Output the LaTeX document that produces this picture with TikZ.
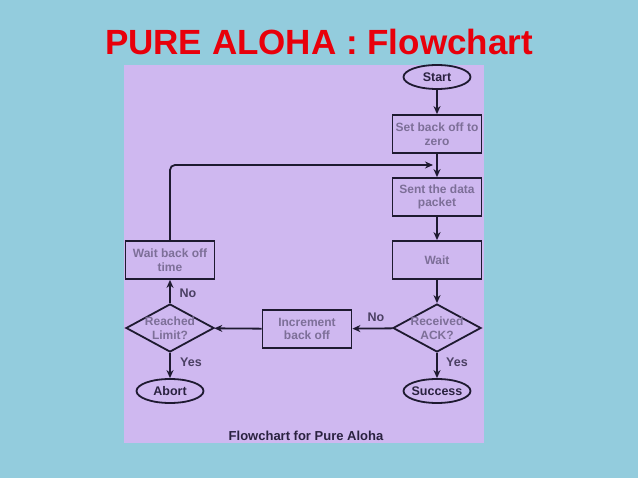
\documentclass[tikz,border=0pt]{standalone}
\usepackage{fontspec}
\setmainfont{Liberation Sans}
\usetikzlibrary{shapes.geometric,arrows.meta}
\definecolor{bgblue}{HTML}{93CCDD}
\definecolor{panel}{HTML}{CFB8F0}
\definecolor{linec}{HTML}{1E1A30}
\definecolor{boxtxt}{HTML}{7D6F98}
\definecolor{darktxt}{HTML}{2A2240}
\definecolor{titlered}{HTML}{E8000B}
\tikzset{
  conn/.style={draw=linec, line width=1.8pt, -{Stealth[length=8pt,width=7pt]}},
  procbox/.style={draw=linec, line width=1.8pt, rectangle, minimum width=89pt, minimum height=38pt, align=center, font=\bfseries\fontsize{12}{13.5}\selectfont, text=boxtxt, inner sep=1pt},
  term/.style={draw=linec, line width=1.8pt, ellipse, minimum width=67pt, minimum height=24pt, inner ysep=0pt, inner xsep=-3pt, font=\bfseries\fontsize{12.5}{14}\selectfont, text=darktxt},
  decis/.style={draw=linec, line width=1.8pt, diamond, aspect=1.8, minimum width=88pt, minimum height=48pt, inner sep=-7pt, align=center, font=\bfseries\fontsize{12}{13.5}\selectfont, text=boxtxt},
  lbl/.style={font=\bfseries\fontsize{12.5}{14}\selectfont, text=darktxt!80!panel, inner sep=1pt}
}
\begin{document}
\begin{tikzpicture}[x=1pt,y=-1pt]
\fill[bgblue] (0,0) rectangle (638,478);
\useasboundingbox (0,0) rectangle (638,478);
\fill[panel] (124,65) rectangle (484,443);
\node[font=\bfseries\fontsize{35}{38}\selectfont, text=titlered] (title) at (319,42) {PURE ALOHA : Flowchart};

\node[term] (start) at (437,77) {Start};
\node[procbox] (sbo) at (437,134) {Set back off to\\zero};
\node[procbox] (sdp) at (437,197) {Sent the data\\packet};
\node[procbox] (wait) at (437,260) {Wait};
\node[decis] (ack) at (437,328) {Received\\ACK?};
\node[term] (succ) at (437,391) {Success};
\node[procbox] (inc) at (307,329) {Increment\\back off};
\node[decis] (lim) at (170,328) {Reached\\Limit?};
\node[term] (abort) at (170,391) {Abort};
\node[procbox] (wbo) at (170,260) {Wait back off\\time};
\coordinate (join) at (437,165);
\coordinate (corner) at (170,165);

\draw[conn] (start) -- (sbo);
\draw[conn] (sbo) -- (sdp);
\draw[conn] (sdp) -- (wait);
\draw[conn] (wait) -- (ack);
\draw[conn] (ack) -- (succ);
\draw[conn] (ack) -- (inc);
\draw[conn] (inc) -- (lim);
\draw[conn] (lim) -- (abort);
\draw[conn] (lim) -- (wbo);
\draw[conn, rounded corners=5pt] (wbo.north) -- (corner) -- ([xshift=-4pt]join);

\node[lbl] (lno) at (188,293) {No};
\node[lbl] (lyes) at (191,362) {Yes};
\node[lbl] (ano) at (376,317) {No};
\node[lbl] (ayes) at (457,362) {Yes};
\node[font=\bfseries\fontsize{13}{15}\selectfont, text=darktxt] (cap) at (306,436) {Flowchart for Pure Aloha};
\end{tikzpicture}
\end{document}
